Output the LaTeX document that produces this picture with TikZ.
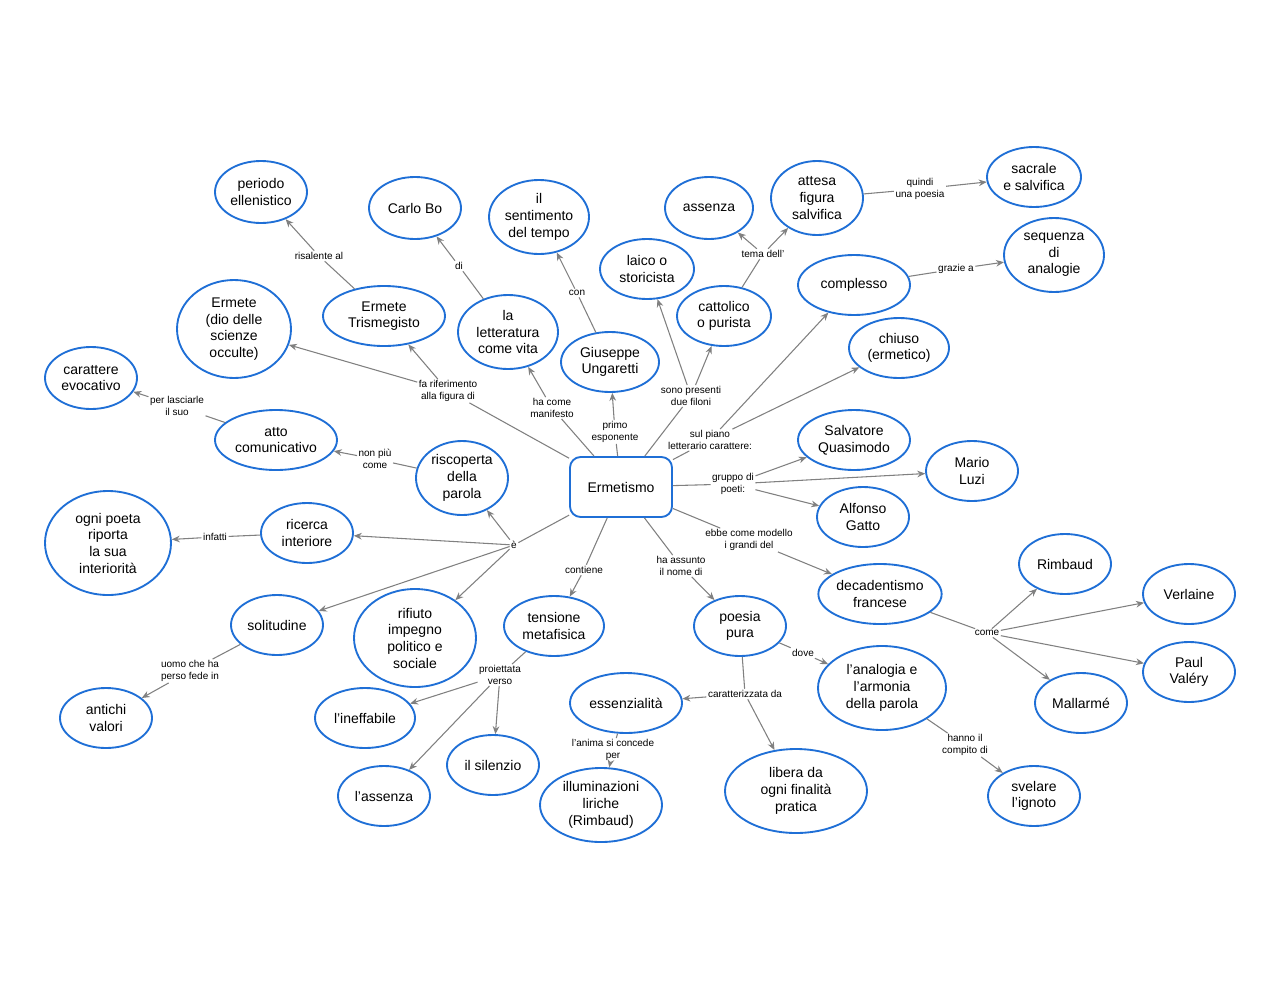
\documentclass[tikz,border=0pt]{standalone}
\usepackage{fontspec}
\setmainfont{Liberation Sans}
\usetikzlibrary{shapes.geometric,arrows.meta}
\definecolor{cblue}{HTML}{1F6FD6}
\definecolor{lgray}{HTML}{808080}
\tikzset{
 cpt/.style={ellipse,draw=cblue,line width=1.4pt,fill=white,inner sep=0pt,align=center,font=\fontsize{10.5}{12.5}\selectfont},
 lnk/.style={inner sep=1pt,align=center,font=\fontsize{7.5}{8.5}\selectfont},
 ln/.style={draw=lgray,line width=0.8pt},
 ar/.style={draw=lgray,line width=0.8pt,-{Stealth[length=6pt,width=5pt]}}
}
\newcommand\cn[5]{\node[cpt,minimum width=#4*0.75pt,minimum height=#5*0.75pt] (#1) at (#2) {#3};}
\newcommand\lk[3]{\node[lnk] (#1) at (#2) {#3};}
\begin{document}
\begin{tikzpicture}[x=0.75pt,y=-0.75pt]
\useasboundingbox (0,0) rectangle (1280,989);
\node[draw=cblue,line width=1.4pt,rounded corners=8pt,minimum width=102*0.75pt,minimum height=60*0.75pt,font=\fontsize{10.5}{12.5}\selectfont] (erm) at (621,487) {Ermetismo};
\cn{ell}{261,192}{periodo\\ellenistico}{92}{62}
\cn{bo}{415,208}{Carlo Bo}{92}{62}
\cn{sen}{539,217}{il\\sentimento\\del tempo}{100}{74}
\cn{ass}{709,208}{assenza}{88}{62}
\cn{att}{817,198}{attesa\\figura\\salvifica}{92}{74}
\cn{sac}{1034,177}{sacrale\\e salvifica}{94}{60}
\cn{seq}{1054,255}{sequenza\\di\\analogie}{100}{74}
\cn{lai}{647,269}{laico o\\storicista}{94}{60}
\cn{cat}{724,316}{cattolico\\o purista}{94}{60}
\cn{com}{854,285}{complesso}{112}{60}
\cn{chi}{899,348}{chiuso\\(ermetico)}{100}{60}
\cn{tri}{384,316}{Ermete\\Trismegisto}{122}{60}
\cn{dio}{234,329}{Ermete\\(dio delle\\scienze\\occulte)}{114}{98}
\cn{let}{508,332}{la\\letteratura\\come vita}{100}{74}
\cn{ung}{610,362}{Giuseppe\\Ungaretti}{98}{60}
\cn{evo}{91,378}{carattere\\evocativo}{92}{62}
\cn{atc}{276,440}{atto\\comunicativo}{122}{60}
\cn{ris}{462,478}{riscoperta\\della\\parola}{92}{74}
\cn{qua}{854,440}{Salvatore\\Quasimodo}{112}{60}
\cn{luz}{972,471}{Mario\\Luzi}{92}{60}
\cn{gat}{863,517}{Alfonso\\Gatto}{92}{60}
\cn{ogn}{108,543}{ogni poeta\\riporta\\la sua\\interiorità}{126}{104}
\cn{ric}{307,533}{ricerca\\interiore}{92}{60}
\cn{sol}{277,625}{solitudine}{92}{60}
\cn{rif}{415,638}{rifiuto\\impegno\\politico e\\sociale}{122}{98}
\cn{ten}{554,626}{tensione\\metafisica}{100}{60}
\cn{pur}{740,626}{poesia\\pura}{92}{60}
\cn{dec}{880,594}{decadentismo\\francese}{112}{60}
\cn{rim}{1065,564}{Rimbaud}{92}{60}
\cn{ver}{1189,594}{Verlaine}{92}{60}
\cn{val}{1189,672}{Paul\\Valéry}{92}{60}
\cn{mal}{1081,703}{Mallarmé}{92}{60}
\cn{ana}{882,688}{l'analogia e\\l'armonia\\della parola}{128}{84}
\cn{ant}{106,718}{antichi\\valori}{92}{60}
\cn{ine}{365,718}{l'ineffabile}{100}{60}
\cn{ess}{626,703}{essenzialità}{112}{60}
\cn{as2}{384,796}{l'assenza}{92}{60}
\cn{sil}{493,765}{il silenzio}{92}{60}
\cn{ill}{601,805}{illuminazioni\\liriche\\(Rimbaud)}{122}{74}
\cn{lib}{796,791}{libera da\\ogni finalità\\pratica}{142}{84}
\cn{sve}{1034,796}{svelare\\l'ignoto}{92}{60}
% linking phrases
\lk{l1}{319,256}{risalente al}
\lk{l2}{459,266}{di}
\lk{l3}{577,293}{con}
\lk{l4}{763,254}{tema dell'}
\lk{l5}{920,189}{quindi\\una poesia}
\lk{l6}{956,269}{grazie a}
\lk{l7}{448,391}{fa riferimento\\alla figura di}
\lk{l8}{552,408}{ha come\\manifesto}
\lk{l9}{615,432}{primo\\esponente}
\lk{l10}{691,396}{sono presenti\\due filoni}
\lk{l11}{710,440}{sul piano\\letterario carattere:}
\lk{l12}{177,406}{per lasciarle\\il suo}
\lk{l13}{375,459}{non più\\come}
\lk{l14}{733,484}{gruppo di\\poeti:}
\lk{l15}{215,537}{infatti}
\lk{l16}{514,545}{è}
\lk{l17}{749,540}{ebbe come modello\\i grandi del}
\lk{l18}{681,566}{ha assunto\\il nome di}
\lk{l19}{584,570}{contiene}
\lk{l20}{987,633}{come}
\lk{l21}{803,653}{dove}
\lk{l22}{190,671}{uomo che ha\\perso fede in}
\lk{l23}{500,675}{proiettata\\verso}
\lk{l24}{745,694}{caratterizzata da}
\lk{l25}{613,750}{l'anima si concede\\per}
\lk{l26}{965,745}{hanno il\\compito di}
% connectors
\draw[ln] (tri)--(l1); \draw[ar] (l1)--(ell);
\draw[ln] (let)--(l2); \draw[ar] (l2)--(bo);
\draw[ln] (ung)--(l3); \draw[ar] (l3)--(sen);
\draw[ln] (cat)--(l4); \draw[ar] (l4)--(ass); \draw[ar] (l4)--(att);
\draw[ln] (att)--(l5); \draw[ar] (l5)--(sac);
\draw[ln] (com)--(l6); \draw[ar] (l6)--(seq);
\draw[ln] (erm)--(l7); \draw[ar] (l7)--(tri); \draw[ar] (l7)--(dio);
\draw[ln] (erm)--(l8); \draw[ar] (l8)--(let);
\draw[ln] (erm)--(l9); \draw[ar] (l9)--(ung);
\draw[ln] (erm)--(l10); \draw[ar] (l10)--(lai); \draw[ar] (l10)--(cat);
\draw[ln] (erm)--(l11); \draw[ar] (l11)--(com); \draw[ar] (l11)--(chi);
\draw[ln] (atc)--(l12); \draw[ar] (l12)--(evo);
\draw[ln] (ris)--(l13); \draw[ar] (l13)--(atc);
\draw[ln] (erm)--(l14); \draw[ar] (l14)--(qua); \draw[ar] (l14)--(luz); \draw[ar] (l14)--(gat);
\draw[ln] (ric)--(l15); \draw[ar] (l15)--(ogn);
\draw[ln] (erm)--(l16); \draw[ar] (l16)--(ris); \draw[ar] (l16)--(ric); \draw[ar] (l16)--(sol); \draw[ar] (l16)--(rif);
\draw[ln] (erm)--(l17); \draw[ar] (l17)--(dec);
\draw[ln] (erm)--(l18); \draw[ar] (l18)--(pur);
\draw[ln] (erm)--(l19); \draw[ar] (l19)--(ten);
\draw[ln] (dec)--(l20); \draw[ar] (l20)--(rim); \draw[ar] (l20)--(ver); \draw[ar] (l20)--(val); \draw[ar] (l20)--(mal);
\draw[ln] (pur)--(l21); \draw[ar] (l21)--(ana);
\draw[ln] (sol)--(l22); \draw[ar] (l22)--(ant);
\draw[ln] (ten)--(l23); \draw[ar] (l23)--(ine); \draw[ar] (l23)--(as2); \draw[ar] (l23)--(sil);
\draw[ln] (pur)--(l24); \draw[ar] (l24)--(ess); \draw[ar] (l24)--(lib);
\draw[ln] (ess)--(l25); \draw[ar] (l25)--(ill);
\draw[ln] (ana)--(l26); \draw[ar] (l26)--(sve);
\end{tikzpicture}
\end{document}
